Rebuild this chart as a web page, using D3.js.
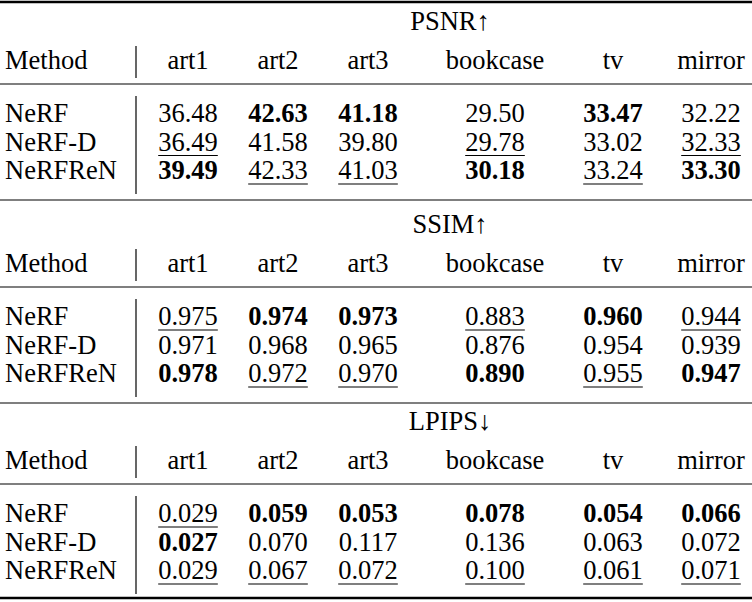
<!DOCTYPE html><html><head><script src="https://cdn.jsdelivr.net/npm/d3@7"></script>
<style>body{margin:0;background:#fff}</style></head><body><svg id="c" width="752" height="602"></svg>
<script>
const columns=["art1","art2","art3","bookcase","tv","mirror"];
const methods=["NeRF","NeRF-D","NeRFReN"];
const metrics=["PSNR↑","SSIM↑","LPIPS↓"];
const psnr=[["36.48","42.63","41.18","29.50","33.47","32.22"],["36.49","41.58","39.80","29.78","33.02","32.33"],["39.49","42.33","41.03","30.18","33.24","33.30"]];
const psnrMark=[["","b","b","","b",""],["u","","","u","","u"],["b","u","u","b","u","b"]];
const ssim=[["0.975","0.974","0.973","0.883","0.960","0.944"],["0.971","0.968","0.965","0.876","0.954","0.939"],["0.978","0.972","0.970","0.890","0.955","0.947"]];
const ssimMark=[["u","b","b","u","b","u"],["","","","","",""],["b","u","u","b","u","b"]];
const lpips=[["0.029","0.059","0.053","0.078","0.054","0.066"],["0.027","0.070","0.117","0.136","0.063","0.072"],["0.029","0.067","0.072","0.100","0.061","0.071"]];
const lpipsMark=[["u","b","b","b","b","b"],["b","","","","",""],["u","u","u","u","u","u"]];
const tables=[[psnr,psnrMark],[ssim,ssimMark],[lpips,lpipsMark]];
const svg=d3.select("#c"),F="'Liberation Serif', serif";
const x=d3.scaleOrdinal().domain(columns).range([188,278,368,495,613,711]);
const offs=[0,203,400];
function line(x1,x2,y,w){svg.append("line").attr("x1",x1).attr("x2",x2).attr("y1",y).attr("y2",y).attr("stroke","#000").attr("stroke-width",w);}
function txt(t,xx,y,anchor,bold,ul){const e=svg.append("text").attr("x",xx).attr("y",y).attr("text-anchor",anchor).style("font-family",F).style("font-size","26.5px").style("font-weight",bold?"bold":"normal").text(t);
 if(ul){const b=e.node().getBBox();line(b.x,b.x+b.width,y+5,1.2);} }
line(0,752,2,2.5);
tables.forEach(([vals,marks],k)=>{const o=offs[k];
 txt(metrics[k],450,o+30,"middle");
 txt("Method",5,o+69,"start");
 columns.forEach(c=>txt(c,x(c),o+69,"middle"));
 svg.append("line").attr("x1",136).attr("x2",136).attr("y1",o+46).attr("y2",o+78).attr("stroke","#000").attr("stroke-width",1.2);
 line(0,752,o+84,1.2);
 svg.append("line").attr("x1",136).attr("x2",136).attr("y1",o+96).attr("y2",o+194).attr("stroke","#000").attr("stroke-width",1.2);
 methods.forEach((m,i)=>{const y=o+122+i*28.5;txt(m,5,y,"start");
  columns.forEach((c,j)=>txt(vals[i][j],x(c),y,"middle",marks[i][j]=="b",marks[i][j]=="u"));});
 line(0,752,o+(k==2?198:200),k==2?2.5:1.2);
});
</script></body></html>
